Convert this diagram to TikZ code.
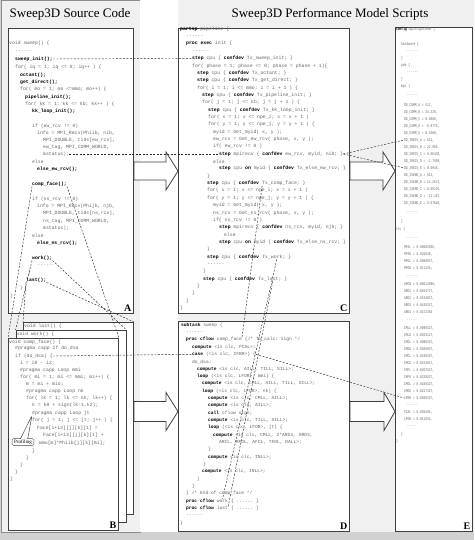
\documentclass[tikz,border=0pt]{standalone}
\usepackage{fontspec}
\setmainfont{Liberation Serif}
\setmonofont{Liberation Mono}
\newfontfamily\condmono[FakeStretch=0.7]{Liberation Mono}
\usepackage{xcolor}
\usepackage{tikz}
\usetikzlibrary{positioning,calc,shapes.callouts}
\definecolor{codegray}{gray}{0.40}
\newcommand{\kw}[1]{{\bfseries\color{black}#1}}

\begin{document}
\begin{tikzpicture}[x=1pt, y=-1pt,
  panel/.style={fill=black!6, draw=black!45, line width=0.6pt},
  codebox/.style={draw=black!75, line width=1pt, fill=white, anchor=north west, inner sep=0pt},
  codetxt/.style={font=\ttfamily\fontsize{4.8}{5.5}\selectfont, text=codegray, anchor=west, inner sep=0pt},
  codetxtD/.style={codetxt, font=\ttfamily\fontsize{4.6}{5.5}\selectfont},
  codetxtE/.style={codetxt, font=\condmono\fontsize{4.2}{5}\selectfont},
  boxlabel/.style={font=\bfseries\fontsize{10}{12}\selectfont, anchor=south east, inner sep=2.5pt},
  paneltitle/.style={font=\fontsize{13}{15}\selectfont},
  blockarrow/.style={draw=black!75, line width=0.8pt, fill=white, line join=miter},
  codelink/.style={dash pattern=on 2pt off 1.5pt, line width=0.45pt, black!85},
  calloutbox/.style={rectangle callout, draw=black!70, fill=white, rounded corners=1.5pt, line width=0.5pt,
    font=\fontsize{5}{6}\selectfont, inner xsep=2pt, inner ysep=1.2pt}
]
\useasboundingbox (0,0) rectangle (474,540);

% Panels
\fill[black!18] (0,0) rectangle (474,540);
\draw[panel] (1,0.5) rectangle (140,532);
\fill[white] (140.3,0) rectangle (178,532);
\fill[black!6] (178,0) rectangle (474,532);
\node[paneltitle] (titleL) at (70,14) {Sweep3D Source Code};
\node[paneltitle] (titleR) at (330,14) {Sweep3D Performance Model Scripts};

% Boxes
\node[codebox, minimum width=125pt, minimum height=285pt] (boxA) at (8,28) {};
\node[codebox, minimum width=110pt, minimum height=192pt] (boxBl) at (23,322) {};
\node[codebox, minimum width=110pt, minimum height=192pt] (boxBw) at (15.5,330) {};
\node[codebox, minimum width=110pt, minimum height=192pt] (boxB) at (8,338) {};
\node[codebox, minimum width=171pt, minimum height=285pt] (boxC) at (178,28) {};
\node[codebox, minimum width=171pt, minimum height=210pt] (boxD) at (178,321) {};
\node[codebox, minimum width=77pt, minimum height=504pt] (boxE) at (395,27) {};

% Source code A
\node[codetxt] (a0) at (9,43) {void sweep() \{};
\node[codetxt] (a1) at (15,51) {......};
\node[codetxt] (a2) at (15,59) {\kw{sweep\_init();}};
\node[codetxt] (a3) at (15,67) {for( iq = 1; iq <= 8; iq++ ) \{};
\node[codetxt] (a4) at (20,75) {\kw{octant();}};
\node[codetxt] (a5) at (20,82) {\kw{get\_direct();}};
\node[codetxt] (a6) at (20,89) {for( mo = 1; mo <=mmo; mo++) \{};
\node[codetxt] (a7) at (25,97) {\kw{pipeline\_init();}};
\node[codetxt] (a8) at (25,104) {for( kk = 1; kk <= kb; kk++ ) \{};
\node[codetxt] (a9) at (32,111) {\kw{kk\_loop\_init();}};
\node[codetxt] (a10) at (32,126) {if (ew\_rcv != 0)};
\node[codetxt] (a11) at (37,133) {info = MPI\_Recv(Phiib, nib,};
\node[codetxt] (a12) at (43,140) {MPI\_DOUBLE, tids[ew\_rcv],};
\node[codetxt] (a13) at (43,147) {ew\_tag, MPI\_COMM\_WORLD,};
\node[codetxt] (a14) at (43,154) {\&status);};
\node[codetxt] (a15) at (32,162) {else};
\node[codetxt] (a16) at (37,169) {\kw{else\_ew\_rcv();}};
\node[codetxt] (a17) at (32,184) {\kw{comp\_face();}};
\node[codetxt] (a18) at (32,199) {if (ns\_rcv != 0)};
\node[codetxt] (a19) at (37,206) {info = MPI\_Recv(Phijb, njb,};
\node[codetxt] (a20) at (43,213) {MPI\_DOUBLE, tids[ns\_rcv],};
\node[codetxt] (a21) at (43,221) {ns\_tag, MPI\_COMM\_WORLD,};
\node[codetxt] (a22) at (43,228) {\&status);};
\node[codetxt] (a23) at (32,236) {else};
\node[codetxt] (a24) at (37,243) {\kw{else\_ns\_rcv();}};
\node[codetxt] (a25) at (32,258) {\kw{work();}};
\node[codetxt] (a26) at (37,265) {......};
\node[codetxt] (a27) at (28,272) {\}};
\node[codetxt] (a28) at (26,280) {\kw{last();}};
\node[codetxt] (a29) at (20,288) {\}};
\node[codetxt] (a30) at (10,296) {\}};

% Source code B (stack)
\node[codetxt] (bl0) at (24,326) {void last() \{};
\node[codetxt] (bw0) at (16.5,334) {void work() \{};
\node[codetxt] (b0) at (9,342) {void comp\_face() \{};
\node[codetxt] (b1) at (15,348.5) {\#pragma capp If do\_dsa};
\node[codetxt] (b2) at (15,356) {if (do\_dsa) \{};
\node[codetxt] (b3) at (20,363) {i = i0 - i2;};
\node[codetxt] (b4) at (20,370) {\#pragma capp Loop mmi};
\node[codetxt] (b5) at (20,377) {for( mi = 1; mi <= mmi; mi++) \{};
\node[codetxt] (b6) at (26,384) {m = mi + mio;};
\node[codetxt] (b7) at (26,391) {\#pragma capp Loop nk};
\node[codetxt] (b8) at (26,398) {for( lk = 1; lk <= nk; lk++) \{};
\node[codetxt] (b9) at (32,405) {k = k0 + sign(lk-1,k2);};
\node[codetxt] (b10) at (32,413) {\#pragma capp Loop jt};
\node[codetxt] (b11) at (32,420) {for( j = 1; j <= jt; j++ ) \{};
\node[codetxt] (b12) at (37,428) {Face[i+i3][j][k][1] =};
\node[codetxt] (b13) at (43,435) {Face[i+i3][j][k][1] +};
\node[codetxt] (b14) at (39,443) {wmu[m]*Phiib[j][k][mi];};
\node[codetxt] (b15) at (32,451) {\}};
\node[codetxt] (b16) at (26,458) {\}};
\node[codetxt] (b17) at (20,465) {\}};
\node[codetxt] (b18) at (15,472) {\}};
\node[codetxt] (b19) at (10,479) {\}};

% Model script C
\node[codetxt] (c0) at (180,29.0) {\kw{partsp} pipeline \{};
\node[codetxt] (c1) at (186,36.4) {......};
\node[codetxt] (c2) at (186,43.7) {\kw{proc exec} init \{};
\node[codetxt] (c3) at (192,51.1) {......};
\node[codetxt] (c4) at (192,58.4) {\kw{step} cpu \{ \kw{confdev} Tx\_sweep\_init; \}};
\node[codetxt] (c5) at (192,65.8) {for( phase = 1; phase <= 8; phase = phase + 1)\{};
\node[codetxt] (c6) at (197,73.1) {\kw{step} cpu \{ \kw{confdev} Tx\_octant; \}};
\node[codetxt] (c7) at (197,80.5) {\kw{step} cpu \{ \kw{confdev} Tx\_get\_direct; \}};
\node[codetxt] (c8) at (197,87.8) {for( i = 1; i <= mmo; i = i + 1 ) \{};
\node[codetxt] (c9) at (202,95.2) {\kw{step} cpu \{ \kw{confdev} Tx\_pipeline\_init; \}};
\node[codetxt] (c10) at (202,102.5) {for( j = 1; j <= kb; j = j + 1 ) \{};
\node[codetxt] (c11) at (208,109.9) {\kw{step} cpu \{ \kw{confdev} Tx\_kk\_loop\_init; \}};
\node[codetxt] (c12) at (208,117.2) {for( x = 1; x <= npe\_i; x = x + 1 )};
\node[codetxt] (c13) at (208,124.6) {for( y = 1; y <= npe\_j; y = y + 1 ) \{};
\node[codetxt] (c14) at (213,131.9) {myid = Get\_myid( x, y );};
\node[codetxt] (c15) at (213,139.3) {ew\_rcv = Get\_ew\_rcv( phase, x, y );};
\node[codetxt] (c16) at (213,146.6) {if( ew\_rcv != 0 )};
\node[codetxt] (c17) at (219,154.0) {\kw{step} mpirecv \{ \kw{confdev} ew\_rcv, myid, nib; \}};
\node[codetxt] (c18) at (213,161.3) {else};
\node[codetxt] (c19) at (219,168.7) {\kw{step} cpu \kw{on} myid \{ \kw{confdev} Tx\_else\_ew\_rcv; \}};
\node[codetxt] (c20) at (207,176.0) {\}};
\node[codetxt] (c21) at (207,183.4) {\kw{step} cpu \{ \kw{confdev}};
\node[codetxt, right=2.9pt of c21] (c21t) {Tx\_comp\_face; \}};
\node[codetxt] (c22) at (207,190.7) {for( x = 1; x <= npe\_i; x = x + 1 )};
\node[codetxt] (c23) at (207,198.1) {for( y = 1; y <= npe\_j; y = y + 1 ) \{};
\node[codetxt] (c24) at (213,205.4) {myid = Get\_myid( x, y );};
\node[codetxt] (c25) at (213,212.8) {ns\_rcv = Get\_ns\_rcv( phase, x, y );};
\node[codetxt] (c26) at (213,220.1) {if( ns\_rcv != 0 )};
\node[codetxt] (c27) at (219,227.5) {\kw{step} mpirecv \{ \kw{confdev} ns\_rcv, myid, njb; \}};
\node[codetxt] (c28) at (224,234.8) {else};
\node[codetxt] (c29) at (219,242.2) {\kw{step} cpu \kw{on} myid \{ \kw{confdev} Tx\_else\_ns\_rcv; \}};
\node[codetxt] (c30) at (207,249.5) {\}};
\node[codetxt] (c31) at (207,256.9) {\kw{step} cpu \{ \kw{confdev}};
\node[codetxt, right=2.9pt of c31] (c31t) {Tx\_work; \}};
\node[codetxt] (c32) at (207,264.2) {......};
\node[codetxt] (c33) at (203,271.6) {\}};
\node[codetxt] (c34) at (203,278.9) {\kw{step} cpu \{ \kw{confdev}};
\node[codetxt, right=2.9pt of c34] (c34t) {Tx\_last; \}};
\node[codetxt] (c35) at (197,286.3) {\}};
\node[codetxt] (c36) at (192,293.6) {\}};
\node[codetxt] (c37) at (186,301.0) {\}};
\node[codetxt] (c38) at (180,308.3) {\}};

% Model script D
\node[codetxtD] (d0) at (181,325.0) {\kw{subtask} sweep \{};
\node[codetxtD] (d1) at (186,332.3) {......};
\node[codetxtD] (d2) at (186,339.7) {\kw{proc cflow}};
\node[codetxtD, right=2.76pt of d2] (d2w) {comp\_face};
\node[codetxtD, right=2.76pt of d2w] (d2r) {\{/* Tx\_calc: sign */};
\node[codetxtD] (d3) at (192,347.0) {\kw{compute} <is clc, FCAL>;};
\node[codetxtD] (d4) at (192,354.3) {\kw{case} (<is clc, IFBR>) \{};
\node[codetxtD] (d5) at (192,361.7) {do\_dsa:};
\node[codetxtD] (d6) at (197,369.0) {\kw{compute} <is clc, AILL, TILL, SILL>;};
\node[codetxtD] (d7) at (197,376.3) {\kw{loop} (<is clc, LFOR>, mmi) \{};
\node[codetxtD] (d8) at (202,383.6) {\kw{compute} <is clc, CMLL, AILL, TILL, SILL>;};
\node[codetxtD] (d9) at (202,391.0) {\kw{loop} (<is clc, LFOR>, nk) \{};
\node[codetxtD] (d10) at (208,398.3) {\kw{compute} <is clc, CMLL, AILL>;};
\node[codetxtD] (d11) at (208,405.6) {\kw{compute} <is clc, AILL>;};
\node[codetxtD] (d12) at (208,413.0) {\kw{call} cflow sign;};
\node[codetxtD] (d13) at (208,420.3) {\kw{compute} <is clc, TILL, SILL>;};
\node[codetxtD] (d14) at (208,427.6) {\kw{loop} (<is clc, LFOR>, jt) \{};
\node[codetxtD] (d15) at (213,435.0) {\kw{compute} <is clc, CMLL, 2*ARD4, ARD3,};
\node[codetxtD] (d16) at (219,442.3) {ARCL, MFDL, AFCL, TFDL, DALL>;};
\node[codetxtD] (d17) at (208,449.6) {\}};
\node[codetxtD] (d18) at (208,457.0) {\kw{compute} <is clc, INLL>;};
\node[codetxtD] (d19) at (203,464.3) {\}};
\node[codetxtD] (d20) at (202,471.6) {\kw{compute} <is clc, INLL>;};
\node[codetxtD] (d21) at (197,479.0) {\}};
\node[codetxtD] (d22) at (192,486.3) {\}};
\node[codetxtD] (d23) at (186,493.6) {\} /* End of comp\_face */};
\node[codetxtD] (d24) at (186,501.0) {\kw{proc cflow}};
\node[codetxtD, right=2.76pt of d24] (d24w) {work};
\node[codetxtD, right=2.76pt of d24w] (d24r) {\{ ...... \}};
\node[codetxtD] (d25) at (186,508.3) {\kw{proc cflow}};
\node[codetxtD, right=2.76pt of d25] (d25w) {last};
\node[codetxtD, right=2.76pt of d25w] (d25r) {\{ ...... \}};
\node[codetxtD] (d26) at (186,515.6) {......};
\node[codetxtD] (d27) at (180,523.0) {\}};

% Hardware configuration E
\node[codetxtE] (e0) at (396,29) {\kw{config} SgiOrigin2000 \{};
\node[codetxtE] (e1) at (401,44) {hardware \{};
\node[codetxtE] (e2) at (407,51) {......};
\node[codetxtE] (e3) at (401,58) {\}};
\node[codetxtE] (e4) at (401,65) {pvm \{};
\node[codetxtE] (e5) at (407,72) {......};
\node[codetxtE] (e6) at (401,79) {\}};
\node[codetxtE] (e7) at (401,86) {mpi \{};
\node[codetxtE] (e8) at (407,95) {......};
\node[codetxtE] (e9) at (404,105) {DD\_COMM\_A = 512,};
\node[codetxtE] (e10) at (404,112) {DD\_COMM\_B = 33.228,};
\node[codetxtE] (e11) at (404,119) {DD\_COMM\_C = 0.0260,};
\node[codetxtE] (e12) at (404,126) {DD\_COMM\_D = -5.9776,};
\node[codetxtE] (e13) at (404,133) {DD\_COMM\_E = 0.1060,};
\node[codetxtE] (e14) at (404,140) {DD\_IRECV\_A = 512,};
\node[codetxtE] (e15) at (404,147) {DD\_IRECV\_B = 22.065,};
\node[codetxtE] (e16) at (404,154) {DD\_IRECV\_C = 0.06438,};
\node[codetxtE] (e17) at (404,161) {DD\_IRECV\_D = -1.7859,};
\node[codetxtE] (e18) at (404,168) {DD\_IRECV\_E = 0.0945,};
\node[codetxtE] (e19) at (404,175) {DD\_ISEND\_A = 512,};
\node[codetxtE] (e20) at (404,182) {DD\_ISEND\_B = 14.2672,};
\node[codetxtE] (e21) at (404,189) {DD\_ISEND\_C = 0.05225,};
\node[codetxtE] (e22) at (404,196) {DD\_ISEND\_D = -12.327,};
\node[codetxtE] (e23) at (404,203) {DD\_ISEND\_E = 0.07646,};
\node[codetxtE] (e24) at (407,212) {......};
\node[codetxtE] (e25) at (401,221) {\}};
\node[codetxtE] (e26) at (396,229) {clc \{};
\node[codetxtE] (e27) at (407,238) {......};
\node[codetxtE] (e28) at (404,247) {MFSL = 0.00602936,};
\node[codetxtE] (e29) at (404,254) {MFSG = 0.025046,};
\node[codetxtE] (e30) at (404,261) {MFDL = 0.0068927,};
\node[codetxtE] (e31) at (404,268) {MFDG = 0.011226,};
\node[codetxtE] (e32) at (407,276) {......};
\node[codetxtE] (e33) at (404,284) {ARCN = 0.00612696,};
\node[codetxtE] (e34) at (404,291) {ARD1 = 0.0034727,};
\node[codetxtE] (e35) at (404,298) {ARD2 = 0.0234027,};
\node[codetxtE] (e36) at (404,305) {ARD3 = 0.0428327,};
\node[codetxtE] (e37) at (404,312) {ARD4 = 0.0472354};
\node[codetxtE] (e38) at (407,320) {.....};
\node[codetxtE] (e39) at (404,328) {CMLL = 0.0098327,};
\node[codetxtE] (e40) at (404,335) {CMLG = 0.0203127,};
\node[codetxtE] (e41) at (404,342) {CMDL = 0.0096327,};
\node[codetxtE] (e42) at (404,349) {CMDG = 0.0305927,};
\node[codetxtE] (e43) at (404,356) {CMCL = 0.0100327,};
\node[codetxtE] (e44) at (404,363) {CMCG = 0.0223627,};
\node[codetxtE] (e45) at (404,370) {CMFL = 0.0207527,};
\node[codetxtE] (e46) at (404,377) {CMFG = 0.0229227,};
\node[codetxtE] (e47) at (404,384) {CMOL = 0.0106327,};
\node[codetxtE] (e48) at (404,391) {CMOG = 0.0227327,};
\node[codetxtE] (e49) at (404,398) {IFBR = 0.0020327,};
\node[codetxtE] (e50) at (407,405) {......};
\node[codetxtE] (e51) at (404,412) {FCAL = 0.030494,};
\node[codetxtE] (e52) at (404,419) {LFOR = 0.011834,};
\node[codetxtE] (e53) at (407,426) {.....};
\node[codetxtE] (e54) at (401,434) {\}};
\node[codetxtE] (e55) at (396,441) {\}};

% Block arrows
\coordinate (ceTip) at (boxE.west |- boxC.east);
\coordinate (bdTail) at ([yshift=7pt]boxBl.east);
\coordinate (bdTip) at (boxD.west |- bdTail);
\coordinate (deTail) at (boxD.east |- bdTail);
\coordinate (deTip) at (boxE.west |- bdTail);
\draw[blockarrow] ($(boxA.east)+(0,-9)$) -- ($(boxC.west)+(-12,-9)$) -- ($(boxC.west)+(-12,-19)$) -- (boxC.west)
  -- ($(boxC.west)+(-12,19)$) -- ($(boxC.west)+(-12,9)$) -- ($(boxA.east)+(0,9)$) -- cycle;
\draw[blockarrow] ($(boxC.east)+(0,-9)$) -- ($(ceTip)+(-12,-9)$) -- ($(ceTip)+(-12,-19)$) -- (ceTip)
  -- ($(ceTip)+(-12,19)$) -- ($(ceTip)+(-12,9)$) -- ($(boxC.east)+(0,9)$) -- cycle;
\draw[blockarrow] ($(bdTail)+(0,-10)$) -- ($(bdTip)+(-12,-10)$) -- ($(bdTip)+(-12,-19)$) -- (bdTip)
  -- ($(bdTip)+(-12,19)$) -- ($(bdTip)+(-12,10)$) -- ($(bdTail)+(0,10)$) -- cycle;
\draw[blockarrow] ($(deTail)+(0,-10)$) -- ($(deTip)+(-11,-10)$) -- ($(deTip)+(-11,-19)$) -- (deTip)
  -- ($(deTip)+(-11,19)$) -- ($(deTip)+(-11,10)$) -- ($(deTail)+(0,10)$) -- cycle;

% Box labels
\node[boxlabel] (labA) at (boxA.south east) {A};
\node[boxlabel] (labB) at (boxB.south east) {B};
\node[boxlabel] (labC) at (boxC.south east) {C};
\node[boxlabel] (labD) at (boxD.south east) {D};
\node[boxlabel] (labE) at (boxE.south east) {E};

% Profiling callout
\node[calloutbox, callout absolute pointer={(b10.south west)}] (prof) at (23,442) {Profiling};

% Links between code and model
\draw[codelink] (a2.east) -- (c4.west);
\draw[codelink] (a14.east) -- (c17.west);
\draw[codelink] (c17.east) -- (e14.west);
\draw[codelink] (c17.east) -- (e18.west);
\draw[codelink] (a17.south west) -- (boxB.north west);
\draw[codelink] (a17.south east) -- (boxB.north east);
\draw[codelink] (a25.south west) -- (boxBw.north west);
\draw[codelink] (a25.south east) -- (boxBw.north east);
\draw[codelink] (a28.south west) -- (boxBl.north west);
\draw[codelink] (a28.south east) -- (boxBl.north east);
\draw[codelink] (b2.east) -- (d4.west);
\draw[codelink] (d4.east) -- (e49.west);
\draw[codelink] (c21t.south west) -- (d2w.north east);
\draw[codelink] (c31t.south) -- (d24w.north);
\draw[codelink] (c34t.south) -- (d25w.north east);

\end{tikzpicture}
\end{document}
